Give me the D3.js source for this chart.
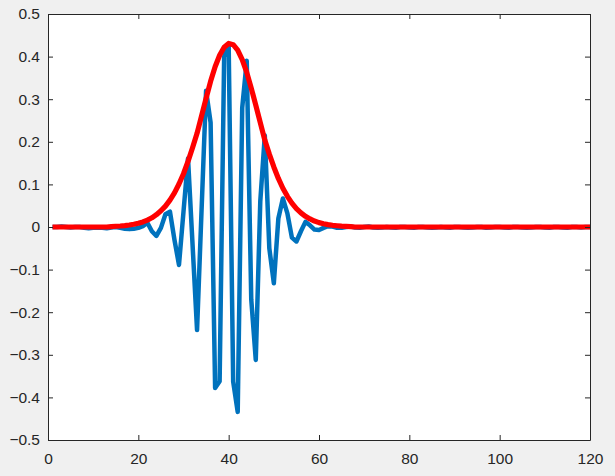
<!DOCTYPE html>
<html>
<head>
<meta charset="utf-8">
<script src="https://cdn.jsdelivr.net/npm/d3@7"></script>
<style>
  html, body { margin: 0; padding: 0; background: #f0f0f0; }
  svg { display: block; }
  text { font-family: "Liberation Sans", Arial, sans-serif; }
</style>
</head>
<body>
<script>
// sample positions 1..120
const sampleX = d3.range(1, 121);

// blue signal values (x = 1..120)
const signalValues = [
  0, 0, 0.001, 0, -0.001, 0, 0, -0.002, -0.003, -0.002,
  -0.001, -0.002, -0.003, -0.001, 0, -0.002, -0.004, -0.005, -0.004, -0.002,
  0.002, 0.01, -0.01, -0.021, -0.002, 0.03, 0.036, -0.03, -0.089, 0.036,
  0.161, -0.04, -0.242, 0.04, 0.32, 0.245, -0.378, -0.362, 0.40, 0.427,
  -0.363, -0.434, 0.28, 0.39, -0.17, -0.312, 0.06, 0.215, -0.05, -0.132,
  0.02, 0.067, 0.032, -0.025, -0.034, -0.01, 0.012, 0.004, -0.006, -0.007,
  -0.002, 0.002, 0.001, -0.002, -0.002, 0, 0.001, -0.001, -0.002, 0,
  0.001, -0.001, -0.002, -0.001, 0, -0.001, -0.002, 0, 0, -0.001,
  -0.002, 0, 0, -0.001, -0.002, -0.001, 0, -0.001, -0.002, 0,
  0, -0.001, -0.002, -0.001, 0, 0, -0.002, -0.001, 0, 0,
  -0.001, -0.002, 0, 0, -0.001, -0.002, -0.001, 0, 0, -0.001,
  -0.002, 0, 0, -0.001, -0.002, 0, 0, -0.001, 0, 0
];

// red envelope values (x = 1..120)
const envelopeValues = [
  0, 0, 0, 0, 0, 0, 0, 0, 0, 0,
  0, 0, 0, 0.001, 0.0017, 0.0024, 0.0034, 0.0047, 0.0065, 0.0088,
  0.012, 0.0162, 0.0216, 0.029, 0.038, 0.049, 0.063, 0.080, 0.101, 0.125,
  0.154, 0.186, 0.220, 0.261, 0.302, 0.342, 0.376, 0.403, 0.422, 0.431,
  0.428, 0.415, 0.393, 0.363, 0.326, 0.286, 0.245, 0.204, 0.171, 0.141,
  0.114, 0.091, 0.072, 0.056, 0.043, 0.033, 0.025, 0.0188, 0.014, 0.0103,
  0.0076, 0.0055, 0.004, 0.003, 0.002, 0.0014, 0.001, 0, 0, 0,
  0, 0, 0, 0, 0, 0, 0, 0, 0, 0,
  0, 0, 0, 0, 0, 0, 0, 0, 0, 0,
  0, 0, 0, 0, 0, 0, 0, 0, 0, 0,
  0, 0, 0, 0, 0, 0, 0, 0, 0, 0,
  0, 0, 0, 0, 0, 0, 0, 0, 0, 0
];

const xTicks = [0, 20, 40, 60, 80, 100, 120];
const yTicks = [-0.5, -0.4, -0.3, -0.2, -0.1, 0, 0.1, 0.2, 0.3, 0.4, 0.5];

const W = 615, H = 476;
const mLeft = 48, mRight = 590, mTop = 14, mBottom = 440;

const svg = d3.select("body").append("svg").attr("width", W).attr("height", H);
svg.append("rect").attr("width", W).attr("height", H).attr("fill", "#f0f0f0");
svg.append("rect").attr("x", mLeft).attr("y", mTop)
  .attr("width", mRight - mLeft).attr("height", mBottom - mTop).attr("fill", "#ffffff");

const x = d3.scaleLinear().domain([0, 120]).range([mLeft, mRight]);
const y = d3.scaleLinear().domain([-0.5, 0.5]).range([mBottom, mTop]);

svg.append("clipPath").attr("id", "plotclip")
  .append("rect").attr("x", mLeft).attr("y", mTop)
  .attr("width", mRight - mLeft).attr("height", mBottom - mTop);

const plot = svg.append("g").attr("clip-path", "url(#plotclip)");

const line = d3.line().x(d => x(d[0])).y(d => y(d[1]));

plot.append("path")
  .datum(sampleX.map((v, i) => [v, signalValues[i]]))
  .attr("d", line)
  .attr("fill", "none")
  .attr("stroke", "#0072BD")
  .attr("stroke-width", 4.5)
  .attr("stroke-linejoin", "round");

plot.append("path")
  .datum(sampleX.map((v, i) => [v, envelopeValues[i]]))
  .attr("d", line)
  .attr("fill", "none")
  .attr("stroke", "#FF0000")
  .attr("stroke-width", 5.2)
  .attr("stroke-linejoin", "round");

const axisColor = "#262626";
const tickLen = 5;

const xAxis = d3.axisBottom(x).tickValues(xTicks).tickSizeInner(-tickLen).tickSizeOuter(0)
  .tickPadding(13).tickFormat(d3.format("d"));
const gx = svg.append("g").attr("transform", `translate(0,${mBottom})`).call(xAxis);
const yAxis = d3.axisLeft(y).tickValues(yTicks).tickSizeInner(-tickLen).tickSizeOuter(0)
  .tickPadding(8).tickFormat(d => d === 0 ? "0" : d3.format(".1f")(d));
const gy = svg.append("g").attr("transform", `translate(${mLeft},0)`).call(yAxis);
const gt = svg.append("g").attr("transform", `translate(0,${mTop})`)
  .call(d3.axisTop(x).tickValues(xTicks).tickSizeInner(-tickLen).tickSizeOuter(0).tickFormat(""));
const gr = svg.append("g").attr("transform", `translate(${mRight},0)`)
  .call(d3.axisRight(y).tickValues(yTicks).tickSizeInner(-tickLen).tickSizeOuter(0).tickFormat(""));

[gx, gy, gt, gr].forEach(g => {
  g.select(".domain").attr("stroke", axisColor).attr("stroke-width", 1);
  g.selectAll(".tick line").attr("stroke", axisColor).attr("stroke-width", 1);
  g.selectAll(".tick text").attr("fill", axisColor).style("font-size", "15.5px")
    .style("font-family", "'Liberation Sans', Arial, sans-serif");
});
</script>
</body>
</html>
